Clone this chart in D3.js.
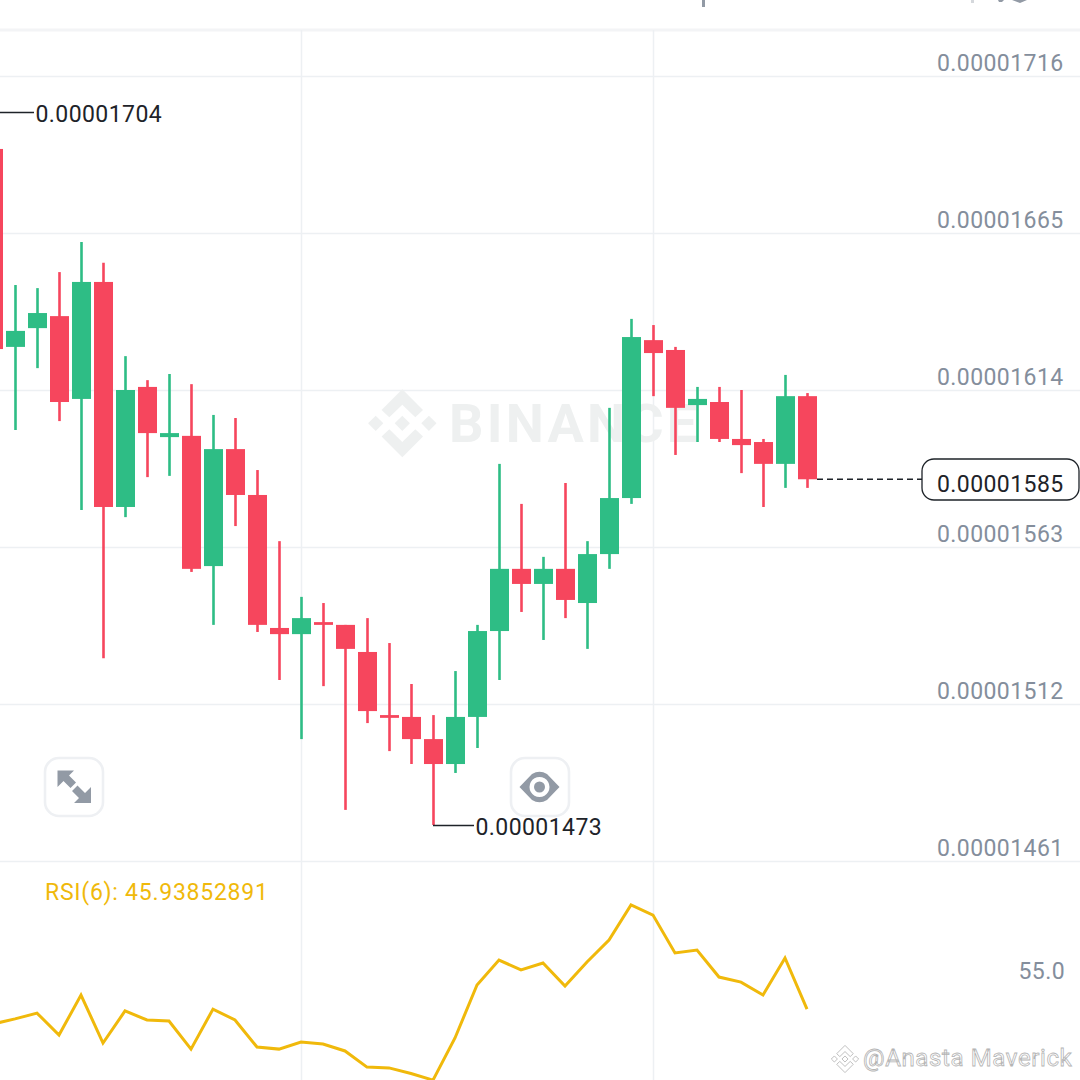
<!DOCTYPE html>
<html><head><meta charset="utf-8">
<script src="https://cdn.jsdelivr.net/npm/d3@7"></script>
<style>html,body{margin:0;padding:0;background:#fff;overflow:hidden}svg{display:block}text{font-family:Roboto,sans-serif}</style>
</head><body><svg id="c" width="1080" height="1080"></svg>
<script>
// prices in units of 1e-8
const open  = [1692.3,1628.0,1634.1,1638.0,1611.1,1649.1,1576.0,1615.0,1598.7,1599.1,1556.8,1594.8,1579.9,1536.7,1534.7,1538.6,1537.7,1528.9,1508.4,1507.8,1500.6,1492.5,1507.8,1535.7,1555.9,1551.0,1555.9,1544.8,1560.7,1578.9,1630.2,1627.0,1609.1,1610.1,1598.1,1597.1,1590.0,1612.0];
const close = [1627.3,1633.2,1639.0,1610.1,1649.1,1576.0,1614.0,1600.0,1600.0,1555.9,1594.8,1579.9,1537.7,1534.7,1539.9,1537.7,1529.9,1509.7,1507.5,1500.6,1492.5,1507.8,1535.7,1555.9,1551.0,1555.9,1545.8,1560.7,1578.9,1631.2,1626.0,1608.2,1611.1,1598.1,1596.1,1590.0,1612.0,1585.0];
const high  = [1704.3,1648.1,1647.1,1652.3,1662.1,1655.3,1625.0,1617.2,1619.2,1615.9,1605.9,1604.9,1588.0,1564.9,1546.8,1544.8,1537.7,1539.9,1531.8,1518.5,1508.4,1522.7,1537.7,1590.0,1577.0,1559.8,1583.8,1564.9,1608.2,1637.1,1635.1,1628.0,1615.0,1615.0,1614.0,1598.1,1618.9,1613.0];
const low   = [1620.0,1601.0,1621.1,1603.9,1575.0,1526.9,1572.7,1585.7,1586.1,1554.9,1537.7,1569.8,1535.4,1519.8,1500.6,1517.8,1477.6,1505.8,1496.7,1492.5,1472.7,1489.6,1497.7,1519.8,1541.9,1532.8,1539.9,1529.9,1555.9,1577.0,1612.0,1592.9,1597.1,1597.1,1587.0,1576.0,1582.2,1582.2];
const rsi   = [40.3,42.2,44.4,36.1,51.2,33.1,45.2,41.8,41.4,30.8,45.9,41.8,31.6,30.8,33.5,32.7,30.1,24.0,23.7,21.6,19.1,35.0,55.0,64.4,60.7,63.3,54.6,63.7,72.0,85.2,81.4,67.1,68.2,58.0,56.1,51.2,65.2,45.9];
const priceTicks = [1716,1665,1614,1563,1512,1461];
const priceTickLabels = ["0.00001716","0.00001665","0.00001614","0.00001563","0.00001512","0.00001461"];
const verticalGridCandles = [14,30];
const rsiTicks = [55];
const rsiTickLabels = ["55.0"];
const highMark = {i:0, label:"0.00001704"};
const lowMark  = {i:20, label:"0.00001473"};
const lastLabel = "0.00001585";
const rsiLabel = "RSI(6): 45.93852891";
const brand = "BINANCE";
const author = "@Anasta Maverick";

const C = {green:"#2EBD85",red:"#F6465D",yellow:"#F0B90B",grid:"#EDF0F3",tick:"#848E9C",dark:"#1E2329",icon:"#929AA5",wm:"#EEF0F0"};
const svg = d3.select("#c");
const x = d3.scaleLinear().domain([0,open.length-1]).range([-7,807]);
const y = d3.scaleLinear().domain([1461,1716]).range([861,76]);
const yR = d3.scaleLinear().domain([55,45.94]).range([985,1009]);
const fs = 23, ls = 0.42;

// grid
svg.append("rect").attr("x",0).attr("y",28.5).attr("width",1080).attr("height",3).attr("fill","#F3F4F6");
const gridAxis = d3.axisRight(y).tickValues(priceTicks).tickSize(1080).tickFormat("");
const gg = svg.append("g").call(gridAxis);
gg.select(".domain").remove();
gg.selectAll("line").attr("stroke",C.grid).attr("stroke-width",1.7);
svg.append("g").selectAll("line").data(verticalGridCandles).join("line")
  .attr("x1",d=>x(d)+.5).attr("x2",d=>x(d)+.5).attr("y1",30).attr("y2",1080)
  .attr("stroke",C.grid).attr("stroke-width",1.5);

// watermark
const logo = (g,s)=>{
  const sc = v=>v*s;
  const diamond=(cx,cy,r)=>`M${sc(cx)},${sc(cy-r)}L${sc(cx+r)},${sc(cy)}L${sc(cx)},${sc(cy+r)}L${sc(cx-r)},${sc(cy)}Z`;
  const chev=k=>`M0,${sc(-34*k)}L${sc(20.7)},${sc(-13.3*k)}L${sc(13)},${sc(-6*k)}L0,${sc(-18.6*k)}L${sc(-13)},${sc(-6*k)}L${sc(-20.7)},${sc(-13.3*k)}Z`;
  return [diamond(0,0,7.6),diamond(-26.6,0,7.6),diamond(26.6,0,7.6),chev(1),chev(-1)].join("");
};
svg.append("path").attr("transform","translate(402.3,423.3)").attr("d",logo(null,1)).attr("fill",C.wm);
svg.append("text").attr("x",449).attr("y",442).attr("font-size",54).attr("font-weight",700)
  .attr("letter-spacing",3.2).attr("fill",C.wm).text(brand);

// candles
const idx = d3.range(open.length);
const col = i=>close[i]>=open[i]?C.green:C.red;
const cg = svg.append("g");
cg.selectAll("line").data(idx).join("line")
  .attr("x1",i=>x(i)+.5).attr("x2",i=>x(i)+.5)
  .attr("y1",i=>y(high[i])).attr("y2",i=>y(low[i]))
  .attr("stroke",col).attr("stroke-width",2.6);
cg.selectAll("rect").data(idx).join("rect")
  .attr("x",i=>x(i)-9).attr("width",19)
  .attr("y",i=>y(Math.max(open[i],close[i])))
  .attr("height",i=>Math.max(2.5,Math.abs(y(open[i])-y(close[i]))))
  .attr("fill",col);

// high / low markers
svg.append("line").attr("x1",0).attr("x2",34).attr("y1",112.5).attr("y2",112.5).attr("stroke",C.dark).attr("stroke-width",1.3);
svg.append("text").attr("x",35.5).attr("y",122).attr("font-size",fs).attr("letter-spacing",ls).attr("fill",C.dark).text(highMark.label);
svg.append("line").attr("x1",x(lowMark.i)).attr("x2",474).attr("y1",825.5).attr("y2",825.5).attr("stroke",C.dark).attr("stroke-width",1.3);
svg.append("text").attr("x",475.5).attr("y",835).attr("font-size",fs).attr("letter-spacing",ls).attr("fill",C.dark).text(lowMark.label);

// price tick labels
svg.append("g").selectAll("text").data(priceTicks).join("text")
  .attr("x",1063.6).attr("y",d=>y(d)-5.5).attr("text-anchor","end")
  .attr("font-size",fs).attr("letter-spacing",ls).attr("fill",C.tick)
  .text((d,i)=>priceTickLabels[i]);

// last price
const lastY = y(close[close.length-1]);
svg.append("line").attr("x1",x(close.length-1)+10).attr("x2",922).attr("y1",lastY).attr("y2",lastY)
  .attr("stroke",C.dark).attr("stroke-width",1.3).attr("stroke-dasharray","6 4");
svg.append("rect").attr("x",922).attr("y",459).attr("width",157).attr("height",41).attr("rx",12)
  .attr("fill","#fff").attr("stroke",C.dark).attr("stroke-width",1.3);
svg.append("text").attr("x",1063.6).attr("y",492).attr("text-anchor","end").attr("font-size",fs).attr("letter-spacing",ls).attr("fill",C.dark).text(lastLabel);

// buttons
svg.selectAll("rect.btn").data([45,511]).join("rect").attr("class","btn")
  .attr("x",d=>d).attr("y",758).attr("width",58).attr("height",58).attr("rx",14)
  .attr("fill","#fff").attr("stroke","#EEF0F3").attr("stroke-width",2.6);
svg.append("path").attr("fill",C.icon).attr("d",
 "M57.5,770.5L74,770.5L69,775.5L76,782.5L70.5,788L63.5,781L57.5,787Z M91,803L74,803L79,798L72,791L77.5,785.5L85,793L91,787Z");
svg.append("path").attr("fill",C.icon).attr("fill-rule","evenodd").attr("d",
 "M519.5,787L532,774Q539.5,769.5 547,774L559.5,787L547,800Q539.5,804.5 532,800Z M539.5,777a10,10 0 1,0 0.01,0Z");
svg.append("circle").attr("cx",539.5).attr("cy",787).attr("r",5.5).attr("fill",C.icon);

// RSI
svg.append("text").attr("x",45).attr("y",900).attr("font-size",fs).attr("letter-spacing",.74).attr("fill",C.yellow).text(rsiLabel);
svg.append("path").datum(rsi)
  .attr("d",d3.line().x((d,i)=>x(i)).y(d=>yR(d)))
  .attr("fill","none").attr("stroke",C.yellow).attr("stroke-width",3).attr("stroke-linejoin","miter");
svg.append("g").selectAll("text").data(rsiTicks).join("text")
  .attr("x",1065).attr("y",d=>yR(d)-6).attr("text-anchor","end")
  .attr("font-size",fs).attr("letter-spacing",ls).attr("fill",C.tick)
  .text((d,i)=>rsiTickLabels[i]);

// author watermark
svg.append("path").attr("transform","translate(845,1059) ").attr("d",logo(null,0.4))
  .attr("fill","#fff").attr("stroke","#B9B9B9").attr("stroke-width",.9);
svg.append("text").attr("x",863).attr("y",1066).attr("font-size",24).attr("letter-spacing",.62)
  .attr("fill","#fff").attr("stroke","#B4B4B4").attr("stroke-width",.8).text(author);

// clipped header bits at the very top
svg.append("rect").attr("x",702).attr("y",0).attr("width",3).attr("height",7).attr("fill","#929AA5");
svg.append("rect").attr("x",971).attr("y",0).attr("width",3).attr("height",3).attr("fill","#D5D8DC");
svg.append("path").attr("d","M998,0H1004L1002,2H999Z M1012,0H1027L1020,3Z").attr("fill","#929AA5");
</script></body></html>
